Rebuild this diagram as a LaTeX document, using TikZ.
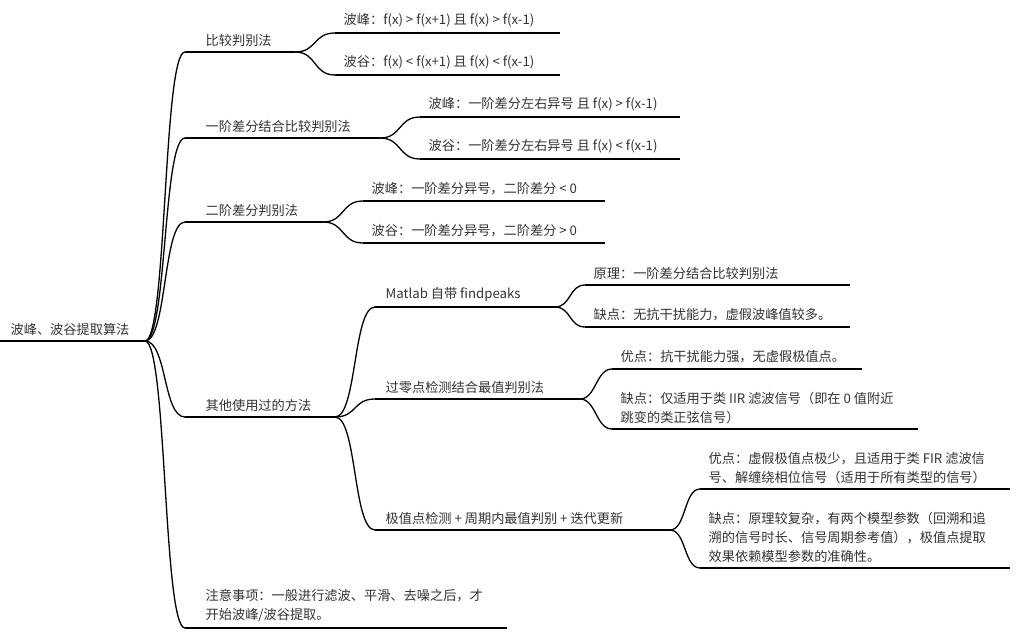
\documentclass[tikz,border=0pt]{standalone}
\usepackage{fontspec}
\setmainfont{Noto Sans CJK SC}
\begin{document}
\begin{tikzpicture}[x=1pt,y=-1pt,line width=1.3pt,
  lbl/.style={anchor=south west,inner sep=0pt,text=black!80,font=\fontsize{13.2}{19}\selectfont,align=left}]
\useasboundingbox[fill=white] (0,0) rectangle (1026,634);
\newcommand\br[6]{%
  \coordinate (#1-s) at (#2,#4);
  \coordinate (#1-e) at (#3,#4);
  \draw (#1-s) -- (#1-e);
  \node[lbl] (#1-t) at (#2+#6,#4-5) {#5};}
\newcommand\conn[3][22]{\draw (#2-e) .. controls +(#1,0) and +(-#1,0) .. (#3-s);}
\br{root}{0}{145}{341}{波峰、波谷提取算法}{10}
\br{a}{185}{295}{52}{比较判别法}{20}
\br{a1}{335}{560}{33}{波峰：f(x) > f(x+1) 且 f(x) > f(x-1)}{8}
\br{a2}{335}{560}{75}{波谷：f(x) < f(x+1) 且 f(x) < f(x-1)}{8}
\br{b}{185}{380}{138}{一阶差分结合比较判别法}{20}
\br{b1}{420}{680}{117}{波峰：一阶差分左右异号 且 f(x) > f(x-1)}{8}
\br{b2}{420}{680}{159}{波谷：一阶差分左右异号 且 f(x) < f(x-1)}{8}
\br{c}{185}{323}{222}{二阶差分判别法}{20}
\br{c1}{363}{605}{201}{波峰：一阶差分异号，二阶差分 < 0}{8}
\br{c2}{363}{605}{243}{波谷：一阶差分异号，二阶差分 > 0}{8}
\br{d}{185}{335}{417}{其他使用过的方法}{20}
\br{d1}{375}{555}{307}{Matlab 自带 findpeaks}{10}
\br{d11}{585}{850}{285}{原理：一阶差分结合比较判别法}{8}
\br{d12}{585}{850}{327}{缺点：无抗干扰能力，虚假波峰值较多。}{8}
\br{d2}{375}{580}{399}{过零点检测结合最值判别法}{10}
\br{d21}{612}{862}{369}{优点：抗干扰能力强，无虚假极值点。}{8}
\br{d22}{612}{918}{429}{缺点：仅适用于类 IIR 滤波信号（即在 0 值附近\\跳变的类正弦信号）}{8}
\br{d3}{375}{670}{530}{极值点检测 + 周期内最值判别 + 迭代更新}{10}
\br{d31}{700}{1010}{489}{优点：虚假极值点极少，且适用于类 FIR 滤波信\\号、解缠绕相位信号（适用于所有类型的信号）}{8}
\br{d32}{700}{1010}{568}{缺点：原理较复杂，有两个模型参数（回溯和追\\溯的信号时长、信号周期参考值），极值点提取\\效果依赖模型参数的准确性。}{8}
\br{e}{185}{507}{628}{注意事项：一般进行滤波、平滑、去噪之后，才\\开始波峰/波谷提取。}{20}
\conn{root}{a}\conn{root}{b}\conn{root}{c}\conn{root}{d}\conn{root}{e}
\conn{a}{a1}\conn{a}{a2}\conn{b}{b1}\conn{b}{b2}\conn{c}{c1}\conn{c}{c2}
\conn{d}{d1}\conn{d}{d2}\conn{d}{d3}
\conn[16]{d1}{d11}\conn[16]{d1}{d12}\conn[16]{d2}{d21}\conn[16]{d2}{d22}\conn[16]{d3}{d31}\conn[16]{d3}{d32}
\end{tikzpicture}
\end{document}
